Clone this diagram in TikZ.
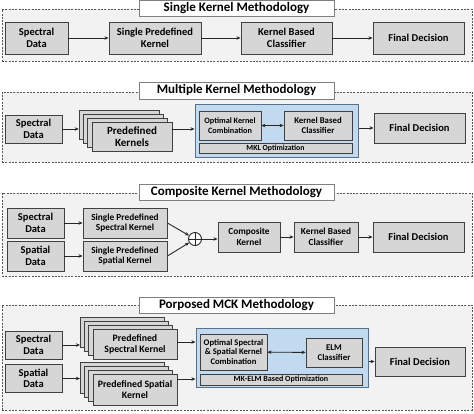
\documentclass[tikz,border=0pt]{standalone}
\usepackage{fontspec}
\setmainfont{Carlito}
\usetikzlibrary{arrows.meta}
\definecolor{boxfill}{HTML}{D6D6D6}
\definecolor{boxline}{HTML}{404040}
\definecolor{panelfill}{HTML}{F2F2F2}
\definecolor{panelline}{HTML}{555555}
\definecolor{titleline}{HTML}{7F7F7F}
\definecolor{bluefill}{HTML}{C2DAEF}
\definecolor{blueline}{HTML}{55718C}
\begin{document}
\begin{tikzpicture}[x=1pt,y=-1pt,
  sz/.style 2 args={minimum width=#1pt, minimum height=#2pt},
  box/.style={draw=boxline, fill=boxfill, line width=0.9pt, inner sep=1pt, align=center, font=\fontsize{10.5}{11.5}\selectfont\bfseries},
  sbox/.style={box, font=\fontsize{9.3}{10.5}\selectfont\bfseries},
  ibox/.style={box, line width=0.8pt, font=\fontsize{8.2}{9.5}\selectfont\bfseries},
  panel/.style={draw=panelline, fill=panelfill, dash pattern=on 2pt off 1.3pt, line width=1pt, inner sep=0pt},
  titlebox/.style={draw=titleline, fill=white, line width=0.8pt, inner sep=0pt, font=\fontsize{13}{14}\selectfont\bfseries},
  bluebox/.style={draw=blueline, fill=bluefill, line width=1pt, inner sep=0pt},
  arr/.style={-{Stealth[length=4pt,width=3.5pt]}, line width=0.9pt, draw=black!85},
  darr/.style={{Stealth[length=4pt,width=3.5pt]}-{Stealth[length=4pt,width=3.5pt]}, line width=0.9pt, draw=black!85},
  plusc/.style={circle, draw=black!85, fill=white, line width=0.9pt, minimum size=13pt, inner sep=0pt}
]
\useasboundingbox[fill=white] (0,0) rectangle (474,413);

% ---------------- Panel 1 ----------------
\node[panel, sz={470}{52}] (pan1) at (237,35) {};
\node[titlebox, sz={195}{16}] (t1) at (236.5,8.5) {Single Kernel Methodology};
\node[box, sz={63}{32}] (p1sd) at (36.5,38) {Spectral\\Data};
\node[box, sz={92}{32}] (p1spk) at (155,38) {Single Predefined\\Kernel};
\node[box, sz={91}{32}] (p1kbc) at (286.5,38) {Kernel Based\\Classifier};
\node[box, sz={91}{32}] (p1fd) at (418.5,38) {Final Decision};
\draw[arr] (p1sd) -- (p1spk);
\draw[arr] (p1spk) -- (p1kbc);
\draw[arr] (p1kbc) -- (p1fd);

% ---------------- Panel 2 ----------------
\node[panel, sz={470}{70}] (pan2) at (237,127) {};
\node[titlebox, sz={195}{17}] (t2) at (236.5,90.5) {Multiple Kernel Methodology};
\node[box, sz={57}{28}] (p2sd) at (33.5,129) {Spectral\\Data};
\node[box, sz={80}{29}] (p2k3) at (119.1,124.5) {};
\node[box, sz={80}{29}] (p2k2) at (123.4,128.5) {};
\node[box, sz={80}{29}] (p2k1) at (127.7,132.5) {};
\node[box, sz={80}{29}, font=\fontsize{11}{12.5}\selectfont\bfseries] (p2k) at (132,136.5) {Predefined\\Kernels};
\node[bluebox, sz={163}{53}] (p2blue) at (276.5,130.5) {};
\node[ibox, sz={62}{29}] (p2okc) at (230,125.5) {Optimal Kernel\\Combination};
\node[ibox, sz={68}{29}, font=\fontsize{8.8}{10}\selectfont\bfseries] (p2kbc) at (318,125.5) {Kernel Based\\Classifier};
\node[ibox, sz={153}{10}, font=\fontsize{7.8}{8.5}\selectfont\bfseries] (p2mkl) at (275.5,148) {MKL Optimization};
\node[box, sz={91}{30}] (p2fd) at (419.5,128) {Final Decision};
\draw[arr] (p2sd.east) -- (p2sd.east -| p2k3.west);
\draw[arr] (p2k.east |- p2sd.east) -- (p2sd.east -| p2blue.west);
\draw[darr] (p2okc) -- (p2kbc);
\draw[arr] (p2blue.east |- p2fd.west) -- (p2fd.west);

% ---------------- Panel 3 ----------------
\node[panel, sz={470}{83}] (pan3) at (237,234.5) {};
\node[titlebox, sz={195}{16}] (t3) at (236.5,192) {Composite Kernel Methodology};
\node[box, sz={57}{30}] (p3sd) at (35.5,223) {Spectral\\Data};
\node[box, sz={57}{30}] (p3pd) at (35.5,256) {Spatial\\Data};
\node[sbox, sz={84}{30}] (p3sk) at (125,223) {Single Predefined\\Spectral Kernel};
\node[sbox, sz={84}{30}] (p3pk) at (125,256) {Single Predefined\\Spatial Kernel};
\node[plusc] (plus) at (195,239) {};
\draw[line width=0.9pt, black!85] (plus.north) -- (plus.south) (plus.west) -- (plus.east);
\node[sbox, sz={62}{30}] (p3ck) at (249,237) {Composite\\Kernel};
\node[sbox, sz={64}{30}] (p3kbc) at (326,237) {Kernel Based\\Classifier};
\node[box, sz={91}{30}] (p3fd) at (418.5,237) {Final Decision};
\draw[arr] (p3sd) -- (p3sk);
\draw[arr] (p3pd) -- (p3pk);
\draw[arr] (p3sk.east) -- (plus);
\draw[arr] (p3pk.east) -- (plus);
\draw[arr] (plus.east) -- (plus.east -| p3ck.west);
\draw[arr] (p3ck) -- (p3kbc);
\draw[arr] (p3kbc) -- (p3fd);

% ---------------- Panel 4 ----------------
\node[panel, sz={470}{105}] (pan4) at (237,357.5) {};
\node[titlebox, sz={195}{16}] (t4) at (236.5,305) {Porposed MCK Methodology};
\node[box, sz={57}{28}] (p4sd) at (33.5,345) {Spectral\\Data};
\node[box, sz={57}{28}] (p4pd) at (33.5,378.5) {Spatial\\Data};
\node[box, sz={84}{30}] (p4s3) at (122.4,332) {};
\node[box, sz={84}{30}] (p4s2) at (126.6,336) {};
\node[box, sz={84}{30}] (p4s1) at (130.8,340) {};
\node[box, sz={84}{30}, font=\fontsize{9.8}{11}\selectfont\bfseries] (p4s) at (135,344) {Predefined\\Spectral Kernel};
\node[box, sz={84}{31}] (p4p3) at (122.4,377.5) {};
\node[box, sz={84}{31}] (p4p2) at (126.6,381.5) {};
\node[box, sz={84}{31}] (p4p1) at (130.8,385.5) {};
\node[box, sz={84}{31}, font=\fontsize{9.8}{11}\selectfont\bfseries] (p4p) at (135,389.5) {Predefined Spatial\\Kernel};
\node[bluebox, sz={172}{59}] (p4blue) at (282,357.5) {};
\node[ibox, sz={67}{36}, font=\fontsize{8.6}{9.8}\selectfont\bfseries] (p4osc) at (233.5,352) {Optimal Spectral\\\& Spatial Kernel\\Combination};
\node[ibox, sz={56}{29}, font=\fontsize{8.8}{10}\selectfont\bfseries] (p4elm) at (334,352.5) {ELM\\Classifier};
\node[ibox, sz={162}{11}, font=\fontsize{8}{9}\selectfont\bfseries] (p4mk) at (281,379.5) {MK-ELM Based Optimization};
\node[box, sz={90}{29}] (p4fd) at (420,361.5) {Final Decision};
\coordinate (c4a) at (0,342);
\coordinate (c4b) at (0,379);
\draw[arr] (p4sd.east) -- (p4sd.east -| p4s3.west);
\draw[arr] (p4s.east |- c4a) -- (p4blue.west |- c4a);
\draw[arr] (p4pd.east) -- (p4pd.east -| p4p3.west);
\draw[arr] (p4p.east |- c4b) -- (p4blue.west |- c4b);
\draw[darr] (p4osc) -- (p4elm);
\draw[arr] (p4blue.east |- p4fd.west) -- (p4fd.west);
\end{tikzpicture}
\end{document}
